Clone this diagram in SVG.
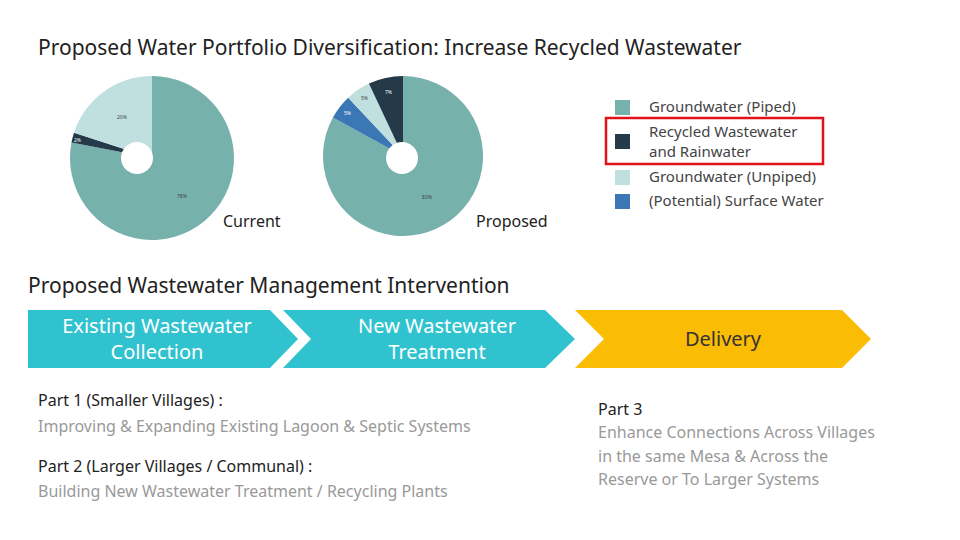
<svg xmlns="http://www.w3.org/2000/svg" width="960" height="540" viewBox="0 0 960 540">
<style>
text{font-family:"Noto Sans","Open Sans",sans-serif}
.h{font-size:21px;fill:#222}
.pl{font-size:5px;fill:#444}
.lg{font-size:15px;fill:#444}
.b{font-size:16px;fill:#222}
.g{font-size:16px;fill:#999}
.w{font-size:20px;fill:#fff}
</style>
<rect width="960" height="540" fill="#fff"/>
<text class="h" x="38" y="55">Proposed Water Portfolio Diversification: Increase Recycled Wastewater</text>
<g id="pie-current">
<path d="M152,158 L152,76 A82,82 0 1 1 71.45,142.6 Z" fill="#76b1ac"/>
<path d="M152,158 L71.45,142.6 A82,82 0 0 1 74,132.7 Z" fill="#243a48"/>
<path d="M152,158 L74,132.7 A82,82 0 0 1 152,76 Z" fill="#bfe0df"/>
<circle cx="137" cy="158" r="16" fill="#fff"/>
<text class="pl" x="117" y="119">20%</text>
<text class="pl" x="74" y="142" fill="#fff" style="fill:#fff">2%</text>
<text class="pl" x="177" y="198">78%</text>
<text class="b" x="223" y="227">Current</text>
</g>
<g id="pie-proposed">
<path d="M403,156 L403,76 A80,80 0 1 1 332.9,117.5 Z" fill="#76b1ac"/>
<path d="M403,156 L332.9,117.5 A80,80 0 0 1 348.2,97.7 Z" fill="#3b76b5"/>
<path d="M403,156 L348.2,97.7 A80,80 0 0 1 368.9,83.6 Z" fill="#bfe0df"/>
<path d="M403,156 L368.9,83.6 A80,80 0 0 1 403,76 Z" fill="#243a48"/>
<circle cx="402" cy="158" r="16" fill="#fff"/>
<text class="pl" x="344" y="115" style="fill:#fff">5%</text>
<text class="pl" x="361" y="100">5%</text>
<text class="pl" x="385" y="94" style="fill:#fff">7%</text>
<text class="pl" x="422" y="199">83%</text>
<text class="b" x="476" y="227">Proposed</text>
</g>
<g id="legend">
<rect x="615" y="100" width="15" height="15" fill="#76b1ac"/>
<text class="lg" x="649" y="112">Groundwater (Piped)</text>
<rect x="615" y="134" width="15" height="15" fill="#243a48"/>
<text class="lg" x="649" y="137">Recycled Wastewater</text>
<text class="lg" x="649" y="157">and Rainwater</text>
<rect x="615" y="170" width="15" height="15" fill="#bfe0df"/>
<text class="lg" x="649" y="182">Groundwater (Unpiped)</text>
<rect x="615" y="194" width="15" height="15" fill="#3b76b5"/>
<text class="lg" x="649" y="206">(Potential) Surface Water</text>
<rect x="606" y="118" width="217" height="46" fill="none" stroke="#e0131a" stroke-width="2.5"/>
</g>
<text class="h" x="28" y="293">Proposed Wastewater Management Intervention</text>
<g id="step1">
<polygon points="28,310 270,310 298,339 270,368 28,368" fill="#30c3cf"/>
<text class="w" x="157" y="333" text-anchor="middle">Existing Wastewater</text>
<text class="w" x="157" y="359" text-anchor="middle">Collection</text>
</g>
<g id="step2">
<polygon points="283,310 545,310 575,339 545,368 283,368 311,339" fill="#30c3cf"/>
<text class="w" x="437" y="333" text-anchor="middle">New Wastewater</text>
<text class="w" x="437" y="359" text-anchor="middle">Treatment</text>
</g>
<g id="step3">
<polygon points="575,310 842,310 871,339 842,368 575,368 604,339" fill="#fbbc04"/>
<text class="w" x="723" y="346" text-anchor="middle" style="fill:#333">Delivery</text>
</g>
<g id="notes">
<text class="b" x="38" y="406">Part 1 (Smaller Villages) :</text>
<text class="g" x="38" y="432">Improving &amp; Expanding Existing Lagoon &amp; Septic Systems</text>
<text class="b" x="38" y="472">Part 2 (Larger Villages / Communal) :</text>
<text class="g" x="38" y="497">Building New Wastewater Treatment / Recycling Plants</text>
<text class="b" x="598" y="415">Part 3</text>
<text class="g" x="598" y="438">Enhance Connections Across Villages</text>
<text class="g" x="598" y="462">in the same Mesa &amp; Across the</text>
<text class="g" x="598" y="485">Reserve or To Larger Systems</text>
</g>
<g id="connectors"></g>
</svg>
